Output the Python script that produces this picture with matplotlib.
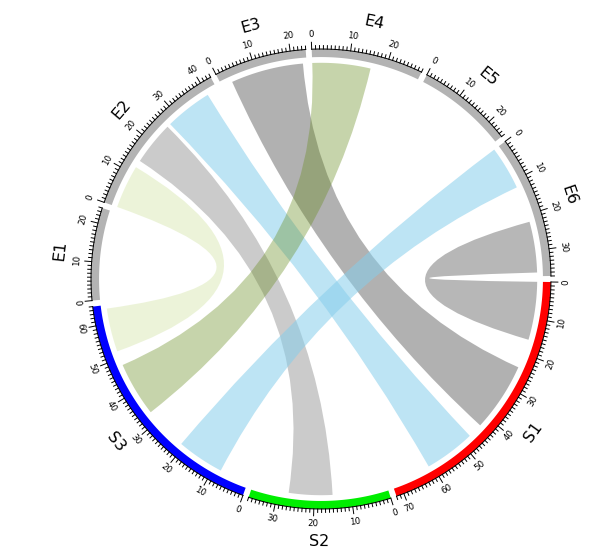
import numpy as np
import matplotlib
matplotlib.use("Agg")
import matplotlib.pyplot as plt
from matplotlib.path import Path
from matplotlib.patches import PathPatch, Polygon

# sectors, clockwise from 3 o'clock
sectors = ["S1", "S2", "S3", "E1", "E2", "E3", "E4", "E5", "E6"]
lengths = [72, 37, 65, 24, 43, 24, 29, 25, 37]
track_colors = ["#FF0000", "#00EE00", "#0000FF"] + ["#B3B3B3"] * 6

# links: (sector a, start, end, sector b, start, end, color, alpha)
links = [
    ("S1", 0, 16, "E6", 22, 36, "#999999", 0.7),
    ("S1", 24, 43, "E3", 3, 23, "#888888", 0.65),
    ("S1", 47, 61, "E2", 27, 40, "#87CEEB", 0.55),
    ("S2", 15, 27, "E2", 14, 26, "#A9A9A9", 0.6),
    ("S3", 8, 21, "E6", 0, 12, "#87CEEB", 0.55),
    ("S3", 33, 48, "E4", 0, 16, "#6B8E23", 0.38),
    ("S3", 52, 64, "E2", 0, 12, "#C5DC8A", 0.32),
]

GAP = 1.5
DEG = (360 - GAP * len(sectors)) / sum(lengths)
starts = {}
a = -GAP / 2
for s, L in zip(sectors, lengths):
    starts[s] = a
    a -= L * DEG + GAP


def ang(s, v):
    return np.radians(starts[s] - v * DEG)


def arc(s, v1, v2, r, n=60):
    t = np.linspace(ang(s, v1), ang(s, v2), n)
    return np.column_stack([r * np.cos(t), r * np.sin(t)])


W, H = 615, 558
cx, cy, R = 321, 279, 230
fig = plt.figure(figsize=(W / 100, H / 100), dpi=100)
ax = fig.add_axes([0, 0, 1, 1])
ax.set_xlim(-cx / R, (W - cx) / R)
ax.set_ylim(-(H - cy) / R, cy / R)
ax.axis("off")

# track
r_in, r_out = 0.965, 1.0
for s, L, c in zip(sectors, lengths, track_colors):
    pts = np.vstack([arc(s, 0, L, r_out), arc(s, L, 0, r_in)])
    ax.add_patch(Polygon(pts, closed=True, fc=c, ec="none", zorder=3))
    # ticks
    for v in range(0, L + 1):
        t = ang(s, v)
        major = v % 10 == 0
        ln = 0.03 if major else 0.015
        ax.plot([r_out * np.cos(t), (r_out + ln) * np.cos(t)],
                [r_out * np.sin(t), (r_out + ln) * np.sin(t)],
                color="black", lw=0.7, zorder=4)
        if major:
            d = np.degrees(t)
            d = (d + 180) % 360 - 180
            rot = d + 90 if d < 0 else d - 90
            rr = 1.065
            ax.text(rr * np.cos(t), rr * np.sin(t), str(v), fontsize=6.2,
                    rotation=rot, ha="center", va="center", zorder=5)
    ax.plot(*arc(s, 0, L, r_out).T, color="black", lw=0.7, zorder=4)
    t = ang(s, L / 2)
    d = (np.degrees(t) + 180) % 360 - 180
    rot = d + 90 if d < 0 else d - 90
    ax.text(1.14 * np.cos(t), 1.14 * np.sin(t), s, fontsize=11.5,
            rotation=rot, ha="center", va="center", zorder=5)

# chords
rc = 0.94
for sa, a1, a2, sb, b1, b2, col, al in links:
    A = arc(sa, a1, a2, rc)
    B = arc(sb, b1, b2, rc)
    verts = list(A) + [(0, 0), B[0]] + list(B[1:]) + [(0, 0), A[0]]
    codes = ([Path.MOVETO] + [Path.LINETO] * (len(A) - 1)
             + [Path.CURVE3, Path.CURVE3] + [Path.LINETO] * (len(B) - 1)
             + [Path.CURVE3, Path.CURVE3])
    ax.add_patch(PathPatch(Path(verts, codes), fc=col, ec="none", alpha=al, zorder=2))

fig.savefig("out.png", dpi=100)
